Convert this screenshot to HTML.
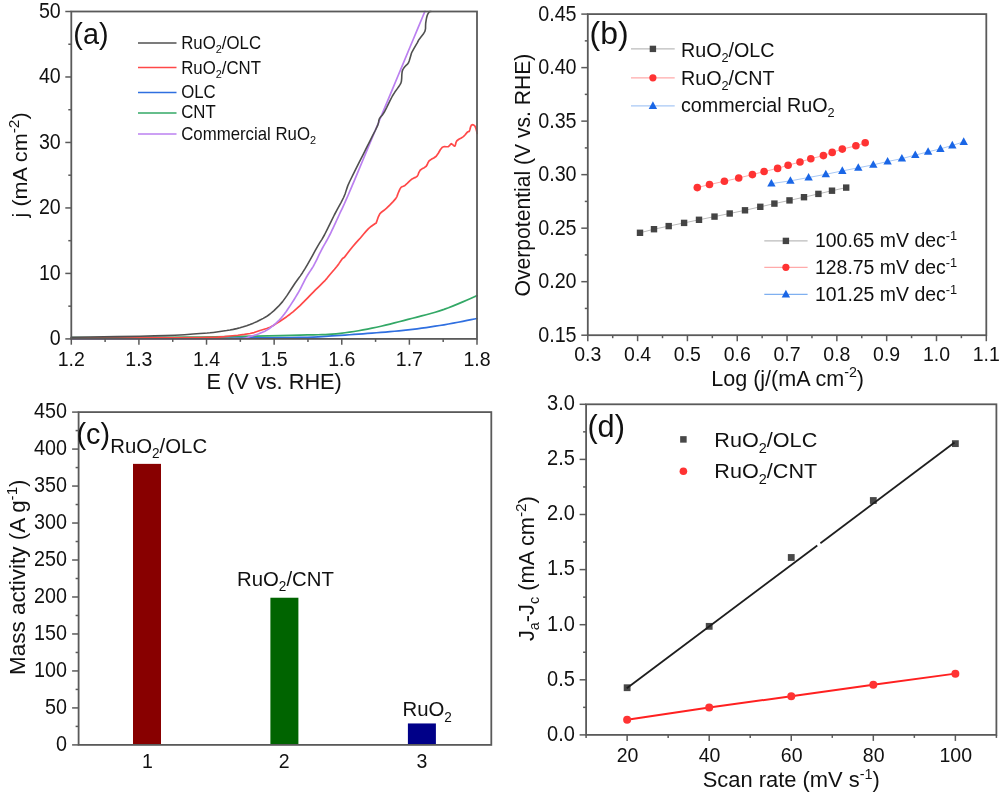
<!DOCTYPE html>
<html><head><meta charset="utf-8"><style>
html,body{margin:0;padding:0;background:#fff;width:1000px;height:795px;overflow:hidden}
svg{display:block;filter:blur(0.3px)}
text{font-family:"Liberation Sans",sans-serif}
</style></head><body>
<svg width="1000" height="795" viewBox="0 0 1000 795">
<rect width="1000" height="795" fill="#fff"/>
<polyline points="71.30,338.40 81.43,338.38 95.10,338.36 111.40,338.33 129.40,338.29 148.18,338.25 166.83,338.21 184.41,338.16 200.00,338.10 214.31,338.04 228.52,337.98 242.41,337.92 255.79,337.84 268.45,337.76 280.17,337.66 290.76,337.54 300.00,337.40 307.56,337.23 313.50,337.04 318.19,336.84 322.00,336.61 325.31,336.37 328.50,336.12 331.94,335.87 336.00,335.60 340.50,335.33 345.00,335.04 349.50,334.74 354.00,334.44 358.50,334.12 363.00,333.79 367.50,333.45 372.00,333.10 376.50,332.75 381.00,332.39 385.50,332.03 390.00,331.66 394.50,331.27 399.00,330.85 403.50,330.40 408.00,329.90 412.52,329.36 417.07,328.79 421.63,328.18 426.19,327.54 430.72,326.88 435.21,326.20 439.64,325.51 444.00,324.80 448.49,324.03 453.23,323.16 458.04,322.25 462.75,321.33 467.17,320.45 471.14,319.66 474.47,318.99 477.00,318.50" fill="none" stroke="#2f6fe0" stroke-width="1.7" stroke-linejoin="round" stroke-linecap="round" />
<polyline points="71.30,337.60 81.43,337.56 95.10,337.52 111.40,337.48 129.40,337.42 148.18,337.35 166.83,337.26 184.41,337.14 200.00,337.00 214.31,336.82 228.52,336.60 242.41,336.36 255.79,336.09 268.45,335.83 280.17,335.56 290.76,335.32 300.00,335.10 307.56,334.94 313.50,334.83 318.19,334.76 322.00,334.68 325.31,334.58 328.50,334.41 331.94,334.16 336.00,333.80 340.50,333.33 345.00,332.78 349.50,332.16 354.00,331.47 358.50,330.72 363.00,329.93 367.50,329.08 372.00,328.20 376.50,327.26 381.00,326.25 385.50,325.19 390.00,324.07 394.50,322.93 399.00,321.76 403.50,320.58 408.00,319.40 412.52,318.23 417.07,317.07 421.63,315.90 426.19,314.71 430.72,313.48 435.21,312.20 439.64,310.84 444.00,309.40 448.49,307.76 453.23,305.89 458.04,303.90 462.75,301.88 467.17,299.93 471.14,298.17 474.47,296.69 477.00,295.60" fill="none" stroke="#33a866" stroke-width="1.7" stroke-linejoin="round" stroke-linecap="round" />
<polyline points="71.30,338.20 108.32,338.05 159.64,337.82 200.00,337.50 217.68,337.10 224.40,336.60 230.00,336.00 237.78,335.26 244.44,334.41 250.00,333.50 254.07,332.55 257.04,331.54 260.00,330.50 263.33,329.52 266.67,328.51 270.00,327.20 273.33,325.44 276.67,323.37 280.00,321.20 283.33,319.00 286.67,316.69 290.00,314.20 293.30,311.54 296.61,308.70 300.00,305.60 303.69,301.96 307.47,298.04 310.80,294.60 313.33,292.05 315.42,289.96 317.60,287.80 320.18,285.29 322.84,282.70 325.20,280.30 326.93,278.32 328.36,276.53 330.00,274.50 332.16,271.99 334.54,269.24 336.80,266.50 338.91,263.63 340.90,260.77 342.50,258.60 343.28,257.89 343.67,257.87 344.70,256.90 346.91,254.09 349.75,250.33 352.60,246.70 355.26,243.61 357.94,240.66 360.60,237.70 363.28,234.53 365.95,231.34 368.50,228.60 371.06,226.46 373.50,224.76 375.30,223.50 376.00,223.11 376.07,223.17 376.40,222.40 377.24,220.01 378.33,216.80 379.80,213.90 381.73,211.94 384.04,210.29 386.60,208.20 389.71,205.12 393.09,201.61 395.70,198.60 396.94,196.60 397.43,195.11 398.00,193.50 398.91,191.39 399.90,189.17 401.00,187.40 402.14,186.60 403.40,186.25 405.00,185.40 407.21,183.42 409.77,180.94 412.10,178.90 414.00,177.90 415.66,177.35 417.10,176.40 418.13,174.56 418.94,172.31 420.10,170.30 422.02,168.87 424.28,167.67 426.20,166.30 427.28,164.54 428.02,162.62 429.20,160.80 431.27,159.36 433.79,158.03 436.20,156.20 438.30,153.21 440.31,149.73 442.30,147.20 444.42,146.50 446.53,146.74 448.30,146.70 449.50,145.68 450.37,144.39 451.30,143.70 452.48,144.42 453.72,145.76 454.80,146.20 455.44,144.91 455.93,142.73 456.90,140.70 458.83,139.24 461.26,137.94 463.40,136.60 464.99,135.00 466.31,133.36 467.40,132.10 468.21,131.69 468.81,131.67 469.40,131.10 470.01,129.21 470.61,126.77 471.40,125.10 472.53,124.68 473.84,125.03 475.00,126.10 475.92,128.37 476.68,131.34 477.20,133.50" fill="none" stroke="#ff4848" stroke-width="1.7" stroke-linejoin="round" stroke-linecap="round" />
<polyline points="71.30,338.80 81.84,338.80 96.50,338.81 114.03,338.81 133.15,338.82 152.58,338.82 171.05,338.82 187.28,338.81 200.00,338.80 209.45,338.79 216.94,338.79 222.81,338.78 227.42,338.78 231.10,338.75 234.19,338.70 237.04,338.62 240.00,338.50 242.69,338.34 244.61,338.15 245.95,337.93 246.88,337.68 247.57,337.41 248.20,337.12 248.96,336.82 250.00,336.50 251.25,336.17 252.50,335.83 253.75,335.48 255.00,335.11 256.25,334.71 257.50,334.28 258.75,333.81 260.00,333.30 261.23,332.78 262.44,332.27 263.64,331.75 264.84,331.18 266.06,330.55 267.32,329.82 268.63,328.98 270.00,328.00 271.44,326.91 272.92,325.77 274.44,324.53 276.01,323.19 277.61,321.72 279.24,320.10 280.91,318.30 282.60,316.30 284.38,314.01 286.26,311.41 288.21,308.58 290.18,305.63 292.11,302.64 293.98,299.69 295.72,296.88 297.30,294.30 298.71,291.90 299.98,289.58 301.15,287.34 302.24,285.18 303.28,283.10 304.28,281.09 305.28,279.16 306.30,277.30 307.32,275.57 308.30,274.00 309.26,272.54 310.19,271.13 311.12,269.74 312.04,268.32 312.96,266.82 313.90,265.20 314.84,263.46 315.76,261.64 316.68,259.76 317.61,257.84 318.53,255.89 319.47,253.95 320.42,252.01 321.40,250.10 322.39,248.25 323.39,246.44 324.41,244.65 325.43,242.86 326.47,241.02 327.53,239.12 328.60,237.12 329.70,235.00 330.81,232.77 331.92,230.48 333.05,228.11 334.19,225.67 335.37,223.14 336.57,220.52 337.81,217.81 339.10,215.00 340.27,212.48 341.25,210.44 342.17,208.52 343.17,206.41 344.39,203.75 345.96,200.22 348.01,195.48 350.70,189.20 354.12,181.11 358.18,171.41 362.74,160.48 367.66,148.69 372.77,136.41 377.93,124.00 382.99,111.84 387.80,100.30 392.69,88.58 397.94,75.99 403.34,63.06 408.67,50.29 413.70,38.23 418.23,27.37 422.04,18.26 424.90,11.40" fill="none" stroke="#bb80f0" stroke-width="1.7" stroke-linejoin="round" stroke-linecap="round" />
<polyline points="71.30,337.30 90.36,337.01 117.05,336.59 140.00,336.20 154.53,335.92 165.32,335.66 175.00,335.30 184.63,334.73 193.15,334.05 200.00,333.50 204.44,333.21 207.22,333.04 210.00,332.80 213.33,332.42 216.67,331.97 220.00,331.50 223.33,331.04 226.67,330.56 230.00,330.00 233.33,329.36 236.67,328.64 240.00,327.80 243.33,326.83 246.67,325.73 250.00,324.50 253.33,323.14 256.67,321.66 260.00,320.00 263.24,318.35 266.47,316.53 270.00,314.00 274.01,310.56 278.32,306.41 282.60,301.60 286.93,295.65 291.24,289.05 295.00,283.30 297.86,279.28 300.17,276.11 302.50,272.70 305.03,268.63 307.57,264.31 310.10,259.90 312.63,255.34 315.16,250.69 317.60,246.30 319.80,242.69 321.93,239.33 324.40,235.00 327.49,228.89 330.93,221.80 334.30,215.00 337.68,208.64 340.99,202.56 343.60,197.50 345.06,194.05 345.81,191.62 346.60,189.20 347.31,187.13 348.06,185.06 349.90,181.00 353.79,173.11 358.76,163.22 363.00,154.80 365.59,149.61 367.45,145.90 369.50,141.80 372.35,136.22 375.39,130.26 377.70,125.40 378.60,122.50 378.77,120.71 379.30,118.90 380.57,117.07 382.20,115.22 384.20,112.30 386.75,107.34 389.66,101.31 392.40,96.00 394.87,92.07 397.17,88.86 399.00,86.20 400.17,84.39 400.87,83.12 401.40,81.30 401.71,78.19 401.84,74.51 402.20,71.40 402.97,69.34 403.96,67.84 405.00,66.50 406.10,65.38 407.26,64.43 408.30,63.10 409.17,61.00 409.93,58.52 410.60,56.30 411.02,54.80 411.35,53.56 412.10,51.80 413.73,48.88 415.77,45.45 417.40,42.70 418.01,41.44 418.21,40.87 418.90,39.70 420.76,37.33 423.12,34.36 424.90,31.40 425.53,28.61 425.57,25.81 425.70,23.10 426.12,20.37 426.62,17.72 427.20,15.50 427.90,13.85 428.69,12.64 429.40,11.80 430.04,11.44 430.61,11.45 431.00,11.50" fill="none" stroke="#505050" stroke-width="1.6" stroke-linejoin="round" stroke-linecap="round" />
<rect x="71.3" y="11.5" width="405.7" height="327.4" fill="none" stroke="#5a5a5a" stroke-width="1.8"/>
<line x1="71.30" y1="338.90" x2="71.30" y2="344.70" stroke="#5a5a5a" stroke-width="1.5"/>
<text transform="translate(71.30,365.80) scale(0.93,1)" font-size="21.0" text-anchor="middle" fill="#111" >1.2</text>
<line x1="105.11" y1="338.90" x2="105.11" y2="341.90" stroke="#5a5a5a" stroke-width="1.5"/>
<line x1="138.92" y1="338.90" x2="138.92" y2="344.70" stroke="#5a5a5a" stroke-width="1.5"/>
<text transform="translate(138.92,365.80) scale(0.93,1)" font-size="21.0" text-anchor="middle" fill="#111" >1.3</text>
<line x1="172.73" y1="338.90" x2="172.73" y2="341.90" stroke="#5a5a5a" stroke-width="1.5"/>
<line x1="206.53" y1="338.90" x2="206.53" y2="344.70" stroke="#5a5a5a" stroke-width="1.5"/>
<text transform="translate(206.53,365.80) scale(0.93,1)" font-size="21.0" text-anchor="middle" fill="#111" >1.4</text>
<line x1="240.34" y1="338.90" x2="240.34" y2="341.90" stroke="#5a5a5a" stroke-width="1.5"/>
<line x1="274.15" y1="338.90" x2="274.15" y2="344.70" stroke="#5a5a5a" stroke-width="1.5"/>
<text transform="translate(274.15,365.80) scale(0.93,1)" font-size="21.0" text-anchor="middle" fill="#111" >1.5</text>
<line x1="307.96" y1="338.90" x2="307.96" y2="341.90" stroke="#5a5a5a" stroke-width="1.5"/>
<line x1="341.77" y1="338.90" x2="341.77" y2="344.70" stroke="#5a5a5a" stroke-width="1.5"/>
<text transform="translate(341.77,365.80) scale(0.93,1)" font-size="21.0" text-anchor="middle" fill="#111" >1.6</text>
<line x1="375.58" y1="338.90" x2="375.58" y2="341.90" stroke="#5a5a5a" stroke-width="1.5"/>
<line x1="409.38" y1="338.90" x2="409.38" y2="344.70" stroke="#5a5a5a" stroke-width="1.5"/>
<text transform="translate(409.38,365.80) scale(0.93,1)" font-size="21.0" text-anchor="middle" fill="#111" >1.7</text>
<line x1="443.19" y1="338.90" x2="443.19" y2="341.90" stroke="#5a5a5a" stroke-width="1.5"/>
<line x1="477.00" y1="338.90" x2="477.00" y2="344.70" stroke="#5a5a5a" stroke-width="1.5"/>
<text transform="translate(477.00,365.80) scale(0.93,1)" font-size="21.0" text-anchor="middle" fill="#111" >1.8</text>
<line x1="65.30" y1="338.90" x2="71.30" y2="338.90" stroke="#5a5a5a" stroke-width="1.5"/>
<text transform="translate(60.70,345.00) scale(0.9,1)" font-size="21.8" text-anchor="end" fill="#111" >0</text>
<line x1="68.30" y1="306.16" x2="71.30" y2="306.16" stroke="#5a5a5a" stroke-width="1.5"/>
<line x1="65.30" y1="273.42" x2="71.30" y2="273.42" stroke="#5a5a5a" stroke-width="1.5"/>
<text transform="translate(60.70,279.52) scale(0.9,1)" font-size="21.8" text-anchor="end" fill="#111" >10</text>
<line x1="68.30" y1="240.68" x2="71.30" y2="240.68" stroke="#5a5a5a" stroke-width="1.5"/>
<line x1="65.30" y1="207.94" x2="71.30" y2="207.94" stroke="#5a5a5a" stroke-width="1.5"/>
<text transform="translate(60.70,214.04) scale(0.9,1)" font-size="21.8" text-anchor="end" fill="#111" >20</text>
<line x1="68.30" y1="175.20" x2="71.30" y2="175.20" stroke="#5a5a5a" stroke-width="1.5"/>
<line x1="65.30" y1="142.46" x2="71.30" y2="142.46" stroke="#5a5a5a" stroke-width="1.5"/>
<text transform="translate(60.70,148.56) scale(0.9,1)" font-size="21.8" text-anchor="end" fill="#111" >30</text>
<line x1="68.30" y1="109.72" x2="71.30" y2="109.72" stroke="#5a5a5a" stroke-width="1.5"/>
<line x1="65.30" y1="76.98" x2="71.30" y2="76.98" stroke="#5a5a5a" stroke-width="1.5"/>
<text transform="translate(60.70,83.08) scale(0.9,1)" font-size="21.8" text-anchor="end" fill="#111" >40</text>
<line x1="68.30" y1="44.24" x2="71.30" y2="44.24" stroke="#5a5a5a" stroke-width="1.5"/>
<line x1="65.30" y1="11.50" x2="71.30" y2="11.50" stroke="#5a5a5a" stroke-width="1.5"/>
<text transform="translate(60.70,17.60) scale(0.9,1)" font-size="21.8" text-anchor="end" fill="#111" >50</text>
<text transform="translate(274.20,389.30) scale(0.975,1)" font-size="22.3" text-anchor="middle" fill="#111" >E (V vs. RHE)</text>
<text transform="translate(27.00,217.40) rotate(-90) scale(1.03,1)" font-size="21" text-anchor="start" fill="#111" >j (mA cm<tspan font-size="15" dy="-8.10">-2</tspan><tspan dy="8.10">)</tspan></text>
<text transform="translate(73.30,43.50) scale(0.96,1)" font-size="30" text-anchor="start" fill="#111" >(a)</text>
<line x1="138.00" y1="43.00" x2="176.50" y2="43.00" stroke="#505050" stroke-width="1.5"/>
<text transform="translate(181.20,49.00) scale(0.95,1)" font-size="17.7" text-anchor="start" fill="#111" >RuO<tspan font-size="11.5" dy="4.00">2</tspan><tspan dy="-4.00">/OLC</tspan></text>
<line x1="138.00" y1="67.40" x2="176.50" y2="67.40" stroke="#ff4848" stroke-width="1.5"/>
<text transform="translate(181.20,73.60) scale(0.95,1)" font-size="17.7" text-anchor="start" fill="#111" >RuO<tspan font-size="11.5" dy="4.00">2</tspan><tspan dy="-4.00">/CNT</tspan></text>
<line x1="138.00" y1="92.60" x2="176.50" y2="92.60" stroke="#2f6fe0" stroke-width="1.5"/>
<text transform="translate(181.20,97.80) scale(0.95,1)" font-size="17.7" text-anchor="start" fill="#111" >OLC</text>
<line x1="138.00" y1="113.00" x2="176.50" y2="113.00" stroke="#33a866" stroke-width="1.5"/>
<text transform="translate(181.20,118.20) scale(0.95,1)" font-size="17.7" text-anchor="start" fill="#111" >CNT</text>
<line x1="138.00" y1="134.00" x2="176.50" y2="134.00" stroke="#bb80f0" stroke-width="1.5"/>
<text transform="translate(181.20,139.60) scale(0.95,1)" font-size="17.7" text-anchor="start" fill="#111" >Commercial RuO<tspan font-size="11.5" dy="4.00">2</tspan></text>
<polyline points="640.00,232.80 654.00,229.20 668.70,226.10 684.10,222.90 699.00,219.80 714.50,216.60 729.70,213.50 745.00,210.30 760.30,206.80 774.40,203.60 789.50,200.40 804.00,197.20 818.40,193.90 832.00,190.70 846.20,187.60" fill="none" stroke="#bbb" stroke-width="1" stroke-linejoin="round" stroke-linecap="round" />
<polyline points="697.30,187.60 709.50,184.50 724.40,181.30 738.70,178.00 752.40,174.60 764.10,171.50 777.60,168.40 788.10,165.20 800.00,162.00 810.80,158.70 823.40,155.60 832.20,152.40 842.30,149.10 855.90,145.80 865.20,142.80" fill="none" stroke="#ffaaaa" stroke-width="1" stroke-linejoin="round" stroke-linecap="round" />
<polyline points="771.40,183.60 790.40,180.85 808.60,177.50 825.80,174.30 842.30,170.90 858.30,167.80 873.30,164.80 887.60,161.50 901.90,158.60 915.30,155.10 928.10,151.80 940.40,148.90 952.30,145.40 963.70,141.90" fill="none" stroke="#a8c8f5" stroke-width="1" stroke-linejoin="round" stroke-linecap="round" />
<rect x="636.80" y="229.60" width="6.4" height="6.4" fill="#444"/>
<rect x="650.80" y="226.00" width="6.4" height="6.4" fill="#444"/>
<rect x="665.50" y="222.90" width="6.4" height="6.4" fill="#444"/>
<rect x="680.90" y="219.70" width="6.4" height="6.4" fill="#444"/>
<rect x="695.80" y="216.60" width="6.4" height="6.4" fill="#444"/>
<rect x="711.30" y="213.40" width="6.4" height="6.4" fill="#444"/>
<rect x="726.50" y="210.30" width="6.4" height="6.4" fill="#444"/>
<rect x="741.80" y="207.10" width="6.4" height="6.4" fill="#444"/>
<rect x="757.10" y="203.60" width="6.4" height="6.4" fill="#444"/>
<rect x="771.20" y="200.40" width="6.4" height="6.4" fill="#444"/>
<rect x="786.30" y="197.20" width="6.4" height="6.4" fill="#444"/>
<rect x="800.80" y="194.00" width="6.4" height="6.4" fill="#444"/>
<rect x="815.20" y="190.70" width="6.4" height="6.4" fill="#444"/>
<rect x="828.80" y="187.50" width="6.4" height="6.4" fill="#444"/>
<rect x="843.00" y="184.40" width="6.4" height="6.4" fill="#444"/>
<circle cx="697.30" cy="187.60" r="3.8" fill="#ff3333"/>
<circle cx="709.50" cy="184.50" r="3.8" fill="#ff3333"/>
<circle cx="724.40" cy="181.30" r="3.8" fill="#ff3333"/>
<circle cx="738.70" cy="178.00" r="3.8" fill="#ff3333"/>
<circle cx="752.40" cy="174.60" r="3.8" fill="#ff3333"/>
<circle cx="764.10" cy="171.50" r="3.8" fill="#ff3333"/>
<circle cx="777.60" cy="168.40" r="3.8" fill="#ff3333"/>
<circle cx="788.10" cy="165.20" r="3.8" fill="#ff3333"/>
<circle cx="800.00" cy="162.00" r="3.8" fill="#ff3333"/>
<circle cx="810.80" cy="158.70" r="3.8" fill="#ff3333"/>
<circle cx="823.40" cy="155.60" r="3.8" fill="#ff3333"/>
<circle cx="832.20" cy="152.40" r="3.8" fill="#ff3333"/>
<circle cx="842.30" cy="149.10" r="3.8" fill="#ff3333"/>
<circle cx="855.90" cy="145.80" r="3.8" fill="#ff3333"/>
<circle cx="865.20" cy="142.80" r="3.8" fill="#ff3333"/>
<polygon points="771.40,179.06 775.60,186.62 767.20,186.62" fill="#1a66e6"/>
<polygon points="790.40,176.31 794.60,183.87 786.20,183.87" fill="#1a66e6"/>
<polygon points="808.60,172.96 812.80,180.52 804.40,180.52" fill="#1a66e6"/>
<polygon points="825.80,169.76 830.00,177.32 821.60,177.32" fill="#1a66e6"/>
<polygon points="842.30,166.36 846.50,173.92 838.10,173.92" fill="#1a66e6"/>
<polygon points="858.30,163.26 862.50,170.82 854.10,170.82" fill="#1a66e6"/>
<polygon points="873.30,160.26 877.50,167.82 869.10,167.82" fill="#1a66e6"/>
<polygon points="887.60,156.96 891.80,164.52 883.40,164.52" fill="#1a66e6"/>
<polygon points="901.90,154.06 906.10,161.62 897.70,161.62" fill="#1a66e6"/>
<polygon points="915.30,150.56 919.50,158.12 911.10,158.12" fill="#1a66e6"/>
<polygon points="928.10,147.26 932.30,154.82 923.90,154.82" fill="#1a66e6"/>
<polygon points="940.40,144.36 944.60,151.92 936.20,151.92" fill="#1a66e6"/>
<polygon points="952.30,140.86 956.50,148.42 948.10,148.42" fill="#1a66e6"/>
<polygon points="963.70,137.36 967.90,144.92 959.50,144.92" fill="#1a66e6"/>
<rect x="587.8" y="14.1" width="398.5" height="321.09999999999997" fill="none" stroke="#5a5a5a" stroke-width="1.8"/>
<line x1="587.80" y1="335.20" x2="587.80" y2="341.20" stroke="#5a5a5a" stroke-width="1.5"/>
<text transform="translate(587.80,361.40) scale(0.93,1)" font-size="21.0" text-anchor="middle" fill="#111" >0.3</text>
<line x1="612.71" y1="335.20" x2="612.71" y2="338.20" stroke="#5a5a5a" stroke-width="1.5"/>
<line x1="637.61" y1="335.20" x2="637.61" y2="341.20" stroke="#5a5a5a" stroke-width="1.5"/>
<text transform="translate(637.61,361.40) scale(0.93,1)" font-size="21.0" text-anchor="middle" fill="#111" >0.4</text>
<line x1="662.52" y1="335.20" x2="662.52" y2="338.20" stroke="#5a5a5a" stroke-width="1.5"/>
<line x1="687.42" y1="335.20" x2="687.42" y2="341.20" stroke="#5a5a5a" stroke-width="1.5"/>
<text transform="translate(687.42,361.40) scale(0.93,1)" font-size="21.0" text-anchor="middle" fill="#111" >0.5</text>
<line x1="712.33" y1="335.20" x2="712.33" y2="338.20" stroke="#5a5a5a" stroke-width="1.5"/>
<line x1="737.24" y1="335.20" x2="737.24" y2="341.20" stroke="#5a5a5a" stroke-width="1.5"/>
<text transform="translate(737.24,361.40) scale(0.93,1)" font-size="21.0" text-anchor="middle" fill="#111" >0.6</text>
<line x1="762.14" y1="335.20" x2="762.14" y2="338.20" stroke="#5a5a5a" stroke-width="1.5"/>
<line x1="787.05" y1="335.20" x2="787.05" y2="341.20" stroke="#5a5a5a" stroke-width="1.5"/>
<text transform="translate(787.05,361.40) scale(0.93,1)" font-size="21.0" text-anchor="middle" fill="#111" >0.7</text>
<line x1="811.96" y1="335.20" x2="811.96" y2="338.20" stroke="#5a5a5a" stroke-width="1.5"/>
<line x1="836.86" y1="335.20" x2="836.86" y2="341.20" stroke="#5a5a5a" stroke-width="1.5"/>
<text transform="translate(836.86,361.40) scale(0.93,1)" font-size="21.0" text-anchor="middle" fill="#111" >0.8</text>
<line x1="861.77" y1="335.20" x2="861.77" y2="338.20" stroke="#5a5a5a" stroke-width="1.5"/>
<line x1="886.67" y1="335.20" x2="886.67" y2="341.20" stroke="#5a5a5a" stroke-width="1.5"/>
<text transform="translate(886.67,361.40) scale(0.93,1)" font-size="21.0" text-anchor="middle" fill="#111" >0.9</text>
<line x1="911.58" y1="335.20" x2="911.58" y2="338.20" stroke="#5a5a5a" stroke-width="1.5"/>
<line x1="936.49" y1="335.20" x2="936.49" y2="341.20" stroke="#5a5a5a" stroke-width="1.5"/>
<text transform="translate(936.49,361.40) scale(0.93,1)" font-size="21.0" text-anchor="middle" fill="#111" >1.0</text>
<line x1="961.39" y1="335.20" x2="961.39" y2="338.20" stroke="#5a5a5a" stroke-width="1.5"/>
<line x1="986.30" y1="335.20" x2="986.30" y2="341.20" stroke="#5a5a5a" stroke-width="1.5"/>
<text transform="translate(986.30,361.40) scale(0.93,1)" font-size="21.0" text-anchor="middle" fill="#111" >1.1</text>
<line x1="581.30" y1="335.20" x2="587.80" y2="335.20" stroke="#5a5a5a" stroke-width="1.5"/>
<text transform="translate(576.60,341.80) scale(0.89,1)" font-size="22.2" text-anchor="end" fill="#111" >0.15</text>
<line x1="584.80" y1="308.44" x2="587.80" y2="308.44" stroke="#5a5a5a" stroke-width="1.5"/>
<line x1="581.30" y1="281.68" x2="587.80" y2="281.68" stroke="#5a5a5a" stroke-width="1.5"/>
<text transform="translate(576.60,288.28) scale(0.89,1)" font-size="22.2" text-anchor="end" fill="#111" >0.20</text>
<line x1="584.80" y1="254.92" x2="587.80" y2="254.92" stroke="#5a5a5a" stroke-width="1.5"/>
<line x1="581.30" y1="228.17" x2="587.80" y2="228.17" stroke="#5a5a5a" stroke-width="1.5"/>
<text transform="translate(576.60,234.77) scale(0.89,1)" font-size="22.2" text-anchor="end" fill="#111" >0.25</text>
<line x1="584.80" y1="201.41" x2="587.80" y2="201.41" stroke="#5a5a5a" stroke-width="1.5"/>
<line x1="581.30" y1="174.65" x2="587.80" y2="174.65" stroke="#5a5a5a" stroke-width="1.5"/>
<text transform="translate(576.60,181.25) scale(0.89,1)" font-size="22.2" text-anchor="end" fill="#111" >0.30</text>
<line x1="584.80" y1="147.89" x2="587.80" y2="147.89" stroke="#5a5a5a" stroke-width="1.5"/>
<line x1="581.30" y1="121.13" x2="587.80" y2="121.13" stroke="#5a5a5a" stroke-width="1.5"/>
<text transform="translate(576.60,127.73) scale(0.89,1)" font-size="22.2" text-anchor="end" fill="#111" >0.35</text>
<line x1="584.80" y1="94.38" x2="587.80" y2="94.38" stroke="#5a5a5a" stroke-width="1.5"/>
<line x1="581.30" y1="67.62" x2="587.80" y2="67.62" stroke="#5a5a5a" stroke-width="1.5"/>
<text transform="translate(576.60,74.22) scale(0.89,1)" font-size="22.2" text-anchor="end" fill="#111" >0.40</text>
<line x1="584.80" y1="40.86" x2="587.80" y2="40.86" stroke="#5a5a5a" stroke-width="1.5"/>
<line x1="581.30" y1="14.10" x2="587.80" y2="14.10" stroke="#5a5a5a" stroke-width="1.5"/>
<text transform="translate(576.60,20.70) scale(0.89,1)" font-size="22.2" text-anchor="end" fill="#111" >0.45</text>
<text transform="translate(589.50,43.80) scale(1.02,1)" font-size="31.3" text-anchor="start" fill="#111" >(b)</text>
<line x1="631.00" y1="48.90" x2="674.70" y2="48.90" stroke="#bbb" stroke-width="1.2"/>
<rect x="649.70" y="45.70" width="6.4" height="6.4" fill="#444"/>
<text transform="translate(681.00,56.90) scale(0.98,1)" font-size="20.1" text-anchor="start" fill="#111" >RuO<tspan font-size="13" dy="4.60">2</tspan><tspan dy="-4.60">/OLC</tspan></text>
<line x1="631.00" y1="77.80" x2="674.70" y2="77.80" stroke="#ffaaaa" stroke-width="1.2"/>
<circle cx="652.90" cy="77.80" r="3.6" fill="#ff3333"/>
<text transform="translate(681.00,85.00) scale(0.98,1)" font-size="20.1" text-anchor="start" fill="#111" >RuO<tspan font-size="13" dy="4.60">2</tspan><tspan dy="-4.60">/CNT</tspan></text>
<line x1="631.00" y1="105.90" x2="674.70" y2="105.90" stroke="#a8c8f5" stroke-width="1.2"/>
<polygon points="652.90,101.36 657.10,108.92 648.70,108.92" fill="#1a66e6"/>
<text transform="translate(681.00,112.30) scale(0.98,1)" font-size="20.1" text-anchor="start" fill="#111" >commercial RuO<tspan font-size="13" dy="4.60">2</tspan></text>
<line x1="764.30" y1="240.90" x2="807.60" y2="240.90" stroke="#bbb" stroke-width="1.2"/>
<rect x="782.70" y="237.70" width="6.4" height="6.4" fill="#444"/>
<text transform="translate(814.90,247.10) scale(0.95,1)" font-size="20.5" text-anchor="start" fill="#111" >100.65 mV dec<tspan font-size="13.5" dy="-7.40">-1</tspan></text>
<line x1="764.30" y1="267.30" x2="807.60" y2="267.30" stroke="#ffaaaa" stroke-width="1.2"/>
<circle cx="785.90" cy="267.30" r="3.6" fill="#ff3333"/>
<text transform="translate(814.90,274.20) scale(0.95,1)" font-size="20.5" text-anchor="start" fill="#111" >128.75 mV dec<tspan font-size="13.5" dy="-7.40">-1</tspan></text>
<line x1="764.30" y1="294.40" x2="807.60" y2="294.40" stroke="#7fb0f0" stroke-width="1.2"/>
<polygon points="785.90,289.86 790.10,297.42 781.70,297.42" fill="#1a66e6"/>
<text transform="translate(814.90,301.00) scale(0.95,1)" font-size="20.5" text-anchor="start" fill="#111" >101.25 mV dec<tspan font-size="13.5" dy="-7.40">-1</tspan></text>
<text transform="translate(530.30,175.00) rotate(-90) scale(0.96,1)" font-size="22.0" text-anchor="middle" fill="#111" >Overpotential (V vs. RHE)</text>
<text transform="translate(787.60,385.80) scale(0.985,1)" font-size="21.9" text-anchor="middle" fill="#111" >Log (j/(mA cm<tspan font-size="14.5" dy="-8.50">-2</tspan><tspan dy="8.50">)</tspan></text>
<rect x="133.00" y="463.87" width="28" height="281.03" fill="#880000"/>
<rect x="270.40" y="597.73" width="28" height="147.17" fill="#006400"/>
<rect x="407.90" y="723.45" width="28" height="21.45" fill="#000088"/>
<rect x="78.6" y="412.1" width="412.70000000000005" height="332.79999999999995" fill="none" stroke="#5a5a5a" stroke-width="1.8"/>
<line x1="72.10" y1="744.90" x2="78.60" y2="744.90" stroke="#5a5a5a" stroke-width="1.5"/>
<text transform="translate(66.90,750.80) scale(0.905,1)" font-size="21.8" text-anchor="end" fill="#111" >0</text>
<line x1="75.60" y1="726.41" x2="78.60" y2="726.41" stroke="#5a5a5a" stroke-width="1.5"/>
<line x1="72.10" y1="707.92" x2="78.60" y2="707.92" stroke="#5a5a5a" stroke-width="1.5"/>
<text transform="translate(66.90,713.82) scale(0.905,1)" font-size="21.8" text-anchor="end" fill="#111" >50</text>
<line x1="75.60" y1="689.43" x2="78.60" y2="689.43" stroke="#5a5a5a" stroke-width="1.5"/>
<line x1="72.10" y1="670.94" x2="78.60" y2="670.94" stroke="#5a5a5a" stroke-width="1.5"/>
<text transform="translate(66.90,676.84) scale(0.905,1)" font-size="21.8" text-anchor="end" fill="#111" >100</text>
<line x1="75.60" y1="652.46" x2="78.60" y2="652.46" stroke="#5a5a5a" stroke-width="1.5"/>
<line x1="72.10" y1="633.97" x2="78.60" y2="633.97" stroke="#5a5a5a" stroke-width="1.5"/>
<text transform="translate(66.90,639.87) scale(0.905,1)" font-size="21.8" text-anchor="end" fill="#111" >150</text>
<line x1="75.60" y1="615.48" x2="78.60" y2="615.48" stroke="#5a5a5a" stroke-width="1.5"/>
<line x1="72.10" y1="596.99" x2="78.60" y2="596.99" stroke="#5a5a5a" stroke-width="1.5"/>
<text transform="translate(66.90,602.89) scale(0.905,1)" font-size="21.8" text-anchor="end" fill="#111" >200</text>
<line x1="75.60" y1="578.50" x2="78.60" y2="578.50" stroke="#5a5a5a" stroke-width="1.5"/>
<line x1="72.10" y1="560.01" x2="78.60" y2="560.01" stroke="#5a5a5a" stroke-width="1.5"/>
<text transform="translate(66.90,565.91) scale(0.905,1)" font-size="21.8" text-anchor="end" fill="#111" >250</text>
<line x1="75.60" y1="541.52" x2="78.60" y2="541.52" stroke="#5a5a5a" stroke-width="1.5"/>
<line x1="72.10" y1="523.03" x2="78.60" y2="523.03" stroke="#5a5a5a" stroke-width="1.5"/>
<text transform="translate(66.90,528.93) scale(0.905,1)" font-size="21.8" text-anchor="end" fill="#111" >300</text>
<line x1="75.60" y1="504.54" x2="78.60" y2="504.54" stroke="#5a5a5a" stroke-width="1.5"/>
<line x1="72.10" y1="486.06" x2="78.60" y2="486.06" stroke="#5a5a5a" stroke-width="1.5"/>
<text transform="translate(66.90,491.96) scale(0.905,1)" font-size="21.8" text-anchor="end" fill="#111" >350</text>
<line x1="75.60" y1="467.57" x2="78.60" y2="467.57" stroke="#5a5a5a" stroke-width="1.5"/>
<line x1="72.10" y1="449.08" x2="78.60" y2="449.08" stroke="#5a5a5a" stroke-width="1.5"/>
<text transform="translate(66.90,454.98) scale(0.905,1)" font-size="21.8" text-anchor="end" fill="#111" >400</text>
<line x1="75.60" y1="430.59" x2="78.60" y2="430.59" stroke="#5a5a5a" stroke-width="1.5"/>
<line x1="72.10" y1="412.10" x2="78.60" y2="412.10" stroke="#5a5a5a" stroke-width="1.5"/>
<text transform="translate(66.90,418.00) scale(0.905,1)" font-size="21.8" text-anchor="end" fill="#111" >450</text>
<text transform="translate(147.50,767.50) scale(0.93,1)" font-size="21.0" text-anchor="middle" fill="#111" >1</text>
<text transform="translate(284.30,767.50) scale(0.93,1)" font-size="21.0" text-anchor="middle" fill="#111" >2</text>
<text transform="translate(422.00,767.50) scale(0.93,1)" font-size="21.0" text-anchor="middle" fill="#111" >3</text>
<text transform="translate(76.40,444.10) scale(0.96,1)" font-size="30" text-anchor="start" fill="#111" >(c)</text>
<text transform="translate(110.20,452.80) scale(0.97,1)" font-size="21" text-anchor="start" fill="#111" >RuO<tspan font-size="14" dy="5.20">2</tspan><tspan dy="-5.20">/OLC</tspan></text>
<text transform="translate(237.00,586.00) scale(0.97,1)" font-size="21" text-anchor="start" fill="#111" >RuO<tspan font-size="14" dy="5.20">2</tspan><tspan dy="-5.20">/CNT</tspan></text>
<text transform="translate(402.50,716.30) scale(0.97,1)" font-size="21" text-anchor="start" fill="#111" >RuO<tspan font-size="14" dy="5.20">2</tspan></text>
<text transform="translate(25.30,577.20) rotate(-90) scale(1.007,1)" font-size="22.3" text-anchor="middle" fill="#111" >Mass activity (A g<tspan font-size="15" dy="-8.60">-1</tspan><tspan dy="8.60">)</tspan></text>
<rect x="623.73" y="684.33" width="6.8" height="6.8" fill="#484848"/>
<rect x="705.79" y="622.95" width="6.8" height="6.8" fill="#484848"/>
<rect x="787.85" y="554.08" width="6.8" height="6.8" fill="#484848"/>
<rect x="869.91" y="497.10" width="6.8" height="6.8" fill="#484848"/>
<rect x="951.97" y="440.24" width="6.8" height="6.8" fill="#484848"/>
<line x1="626.8" y1="688.2" x2="817.3" y2="545.5" stroke="#1e1e1e" stroke-width="1.8"/>
<line x1="820.4" y1="543.2" x2="954.5" y2="442.5" stroke="#1e1e1e" stroke-width="1.8"/>
<polyline points="627.13,719.69 709.19,707.57 791.25,696.22 873.31,684.76 955.37,673.63" fill="none" stroke="#ff2020" stroke-width="2" stroke-linejoin="round" stroke-linecap="round" />
<circle cx="627.13" cy="719.69" r="4.0" fill="#ff3333"/>
<circle cx="709.19" cy="707.57" r="4.0" fill="#ff3333"/>
<circle cx="791.25" cy="696.22" r="4.0" fill="#ff3333"/>
<circle cx="873.31" cy="684.76" r="4.0" fill="#ff3333"/>
<circle cx="955.37" cy="673.63" r="4.0" fill="#ff3333"/>
<rect x="586.1" y="404.3" width="410.29999999999995" height="330.59999999999997" fill="none" stroke="#5a5a5a" stroke-width="1.8"/>
<line x1="627.13" y1="734.90" x2="627.13" y2="740.90" stroke="#5a5a5a" stroke-width="1.5"/>
<text transform="translate(627.53,761.50) scale(0.93,1)" font-size="21.0" text-anchor="middle" fill="#111" >20</text>
<line x1="709.19" y1="734.90" x2="709.19" y2="740.90" stroke="#5a5a5a" stroke-width="1.5"/>
<text transform="translate(709.59,761.50) scale(0.93,1)" font-size="21.0" text-anchor="middle" fill="#111" >40</text>
<line x1="791.25" y1="734.90" x2="791.25" y2="740.90" stroke="#5a5a5a" stroke-width="1.5"/>
<text transform="translate(791.65,761.50) scale(0.93,1)" font-size="21.0" text-anchor="middle" fill="#111" >60</text>
<line x1="873.31" y1="734.90" x2="873.31" y2="740.90" stroke="#5a5a5a" stroke-width="1.5"/>
<text transform="translate(873.71,761.50) scale(0.93,1)" font-size="21.0" text-anchor="middle" fill="#111" >80</text>
<line x1="955.37" y1="734.90" x2="955.37" y2="740.90" stroke="#5a5a5a" stroke-width="1.5"/>
<text transform="translate(955.77,761.50) scale(0.93,1)" font-size="21.0" text-anchor="middle" fill="#111" >100</text>
<line x1="586.10" y1="734.90" x2="586.10" y2="737.90" stroke="#5a5a5a" stroke-width="1.5"/>
<line x1="668.16" y1="734.90" x2="668.16" y2="737.90" stroke="#5a5a5a" stroke-width="1.5"/>
<line x1="750.22" y1="734.90" x2="750.22" y2="737.90" stroke="#5a5a5a" stroke-width="1.5"/>
<line x1="832.28" y1="734.90" x2="832.28" y2="737.90" stroke="#5a5a5a" stroke-width="1.5"/>
<line x1="914.34" y1="734.90" x2="914.34" y2="737.90" stroke="#5a5a5a" stroke-width="1.5"/>
<line x1="996.40" y1="734.90" x2="996.40" y2="737.90" stroke="#5a5a5a" stroke-width="1.5"/>
<line x1="579.60" y1="734.90" x2="586.10" y2="734.90" stroke="#5a5a5a" stroke-width="1.5"/>
<text transform="translate(574.90,740.70) scale(0.89,1)" font-size="22.5" text-anchor="end" fill="#111" >0.0</text>
<line x1="583.10" y1="707.35" x2="586.10" y2="707.35" stroke="#5a5a5a" stroke-width="1.5"/>
<line x1="579.60" y1="679.80" x2="586.10" y2="679.80" stroke="#5a5a5a" stroke-width="1.5"/>
<text transform="translate(574.90,685.60) scale(0.89,1)" font-size="22.5" text-anchor="end" fill="#111" >0.5</text>
<line x1="583.10" y1="652.25" x2="586.10" y2="652.25" stroke="#5a5a5a" stroke-width="1.5"/>
<line x1="579.60" y1="624.70" x2="586.10" y2="624.70" stroke="#5a5a5a" stroke-width="1.5"/>
<text transform="translate(574.90,630.50) scale(0.89,1)" font-size="22.5" text-anchor="end" fill="#111" >1.0</text>
<line x1="583.10" y1="597.15" x2="586.10" y2="597.15" stroke="#5a5a5a" stroke-width="1.5"/>
<line x1="579.60" y1="569.60" x2="586.10" y2="569.60" stroke="#5a5a5a" stroke-width="1.5"/>
<text transform="translate(574.90,575.40) scale(0.89,1)" font-size="22.5" text-anchor="end" fill="#111" >1.5</text>
<line x1="583.10" y1="542.05" x2="586.10" y2="542.05" stroke="#5a5a5a" stroke-width="1.5"/>
<line x1="579.60" y1="514.50" x2="586.10" y2="514.50" stroke="#5a5a5a" stroke-width="1.5"/>
<text transform="translate(574.90,520.30) scale(0.89,1)" font-size="22.5" text-anchor="end" fill="#111" >2.0</text>
<line x1="583.10" y1="486.95" x2="586.10" y2="486.95" stroke="#5a5a5a" stroke-width="1.5"/>
<line x1="579.60" y1="459.40" x2="586.10" y2="459.40" stroke="#5a5a5a" stroke-width="1.5"/>
<text transform="translate(574.90,465.20) scale(0.89,1)" font-size="22.5" text-anchor="end" fill="#111" >2.5</text>
<line x1="583.10" y1="431.85" x2="586.10" y2="431.85" stroke="#5a5a5a" stroke-width="1.5"/>
<line x1="579.60" y1="404.30" x2="586.10" y2="404.30" stroke="#5a5a5a" stroke-width="1.5"/>
<text transform="translate(574.90,410.10) scale(0.89,1)" font-size="22.5" text-anchor="end" fill="#111" >3.0</text>
<text transform="translate(587.40,437.30) scale(0.98,1)" font-size="31.3" text-anchor="start" fill="#111" >(d)</text>
<rect x="680.15" y="436.15" width="6.5" height="6.5" fill="#484848"/>
<circle cx="683.40" cy="471.30" r="3.8" fill="#ff3333"/>
<text transform="translate(714.30,447.00) scale(1.035,1)" font-size="20.9" text-anchor="start" fill="#111" >RuO<tspan font-size="14" dy="5.80">2</tspan><tspan dy="-5.80">/OLC</tspan></text>
<text transform="translate(714.30,478.00) scale(1.035,1)" font-size="20.9" text-anchor="start" fill="#111" >RuO<tspan font-size="14" dy="5.80">2</tspan><tspan dy="-5.80">/CNT</tspan></text>
<text transform="translate(791.30,787.00)" font-size="21.9" text-anchor="middle" fill="#111" >Scan rate (mV s<tspan font-size="14.5" dy="-8.50">-1</tspan><tspan dy="8.50">)</tspan></text>
<text transform="translate(534.30,568.60) rotate(-90) scale(0.99,1)" font-size="22" text-anchor="middle" fill="#111" >J<tspan font-size="14.5" dy="4.50">a</tspan><tspan dy="-4.50">-J</tspan><tspan font-size="14.5" dy="4.50">c</tspan><tspan dy="-4.50"> (mA cm</tspan><tspan font-size="15.5" dy="-8.80">-2</tspan><tspan dy="8.80">)</tspan></text>
</svg>
</body></html>
